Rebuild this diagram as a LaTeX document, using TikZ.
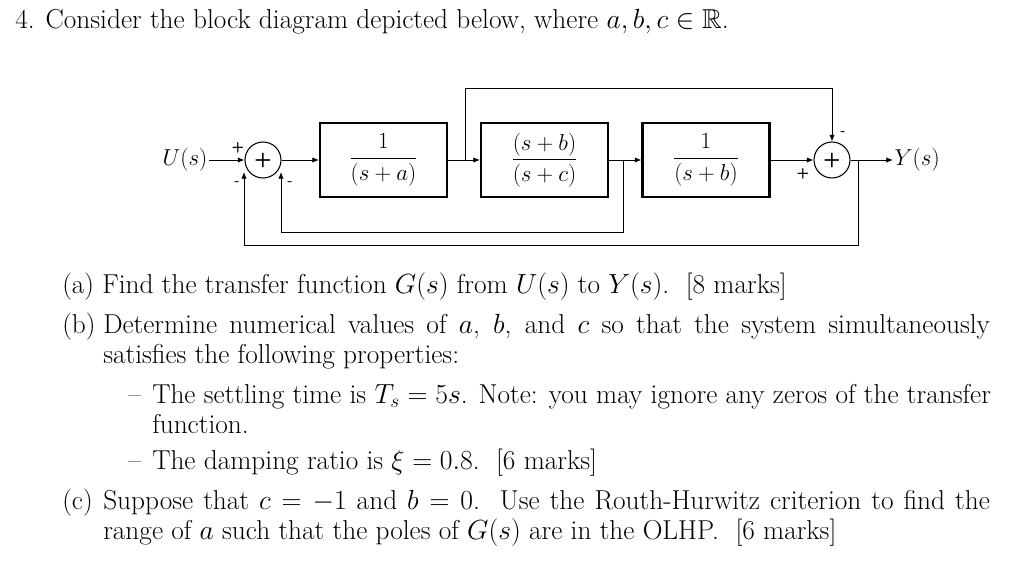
\documentclass[tikz,border=0pt]{standalone}
\usepackage{amsmath,amssymb}
\usetikzlibrary{arrows.meta}
\begin{document}
\begin{tikzpicture}[x=0.75pt,y=-0.75pt,
  blk/.style={draw,line width=1.6pt,minimum width=95.25pt,minimum height=55.5pt,font=\fontsize{17}{19}\selectfont},
  sumc/.style={draw,circle,line width=0.8pt,minimum size=27pt,inner sep=0pt,font=\sffamily\bfseries\fontsize{15}{15}\selectfont},
  arr/.style={-{Latex[length=5pt,width=4pt]},line width=0.6pt},
  sg/.style={font=\sffamily\bfseries\fontsize{11}{11}\selectfont,inner sep=0pt},
  txt/.style={anchor=base west,inner sep=0pt,font=\fontsize{20.5}{23}\selectfont},
  lbl/.style={font=\fontsize{16}{18}\selectfont,inner sep=1pt}]
\useasboundingbox (0,0) rectangle (1024,568);
\node[txt] (t0) at (15,28) {4. Consider the block diagram depicted below, where $a,b,c\in\mathbb{R}$.};
\node[sumc] (s1) at (263,160) {+};
\node[blk] (b1) at (383.5,160) {$\dfrac{1}{(s+a)}$};
\node[blk] (b2) at (544.5,160) {$\dfrac{(s+b)}{(s+c)}$};
\node[blk] (b3) at (706,160) {$\dfrac{1}{(s+b)}$};
\node[sumc] (s2) at (832,160) {+};
\node[lbl,anchor=east] (u) at (209,160) {$U(s)$};
\node[lbl,anchor=west] (y) at (893,160) {$Y(s)$};
\draw[arr] (u) -- (s1);
\draw[arr] (s1) -- (b1);
\draw[arr] (b1) -- (b2);
\draw[arr] (b2) -- (b3);
\draw[arr] (b3) -- (s2);
\draw[arr] (s2) -- (y);
\coordinate (p1) at (465,160);
\coordinate (p2) at (623,160);
\coordinate (p3) at (858,160);
\coordinate (e1) at (281,172);
\coordinate (e2) at (244,172);
\draw[arr] (p1) -- (465,88) -- (832,88) -- (s2.north);
\draw[arr] (p2) -- (623,232) -- (281,232) -- (e1);
\draw[arr] (p3) -- (858,245) -- (244,245) -- (e2);
\node[sg] (m1) at (238,148) {+};
\node[sg] (m2) at (237,184) {-};
\node[sg] (m3) at (290,184) {-};
\node[sg] (m4) at (843,134) {-};
\node[sg] (m5) at (803,174) {+};
\node[txt] (a) at (62,293) {(a) Find the transfer function $G(s)$ from $U(s)$ to $Y(s)$.\ \ [8 marks]};
\node[txt] (b) at (62,333) {(b)};
\node[txt] (b1t) at (103,333) {\makebox[665pt][s]{Determine numerical values of $a$, $b$, and $c$ so that the system simultaneously}};
\node[txt] (b2t) at (103,363) {satisfies the following properties:};
\node[txt] (d1) at (128,403) {--};
\node[txt] (d1t) at (152,403) {\makebox[629pt][s]{The settling time is $T_s=5s$. Note: you may ignore any zeros of the transfer}};
\node[txt] (d1u) at (152,433) {function.};
\node[txt] (d2) at (128,469) {--};
\node[txt] (d2t) at (152,469) {The damping ratio is $\xi=0.8$.\ \ [6 marks]};
\node[txt] (c) at (62,509) {(c)};
\node[txt] (c1t) at (103,509) {\makebox[665pt][s]{Suppose that $c=-1$ and $b=0$.\ \ Use the Routh-Hurwitz criterion to find the}};
\node[txt] (c2t) at (103,539) {range of $a$ such that the poles of $G(s)$ are in the OLHP.\ \ [6 marks]};
\end{tikzpicture}
\end{document}
